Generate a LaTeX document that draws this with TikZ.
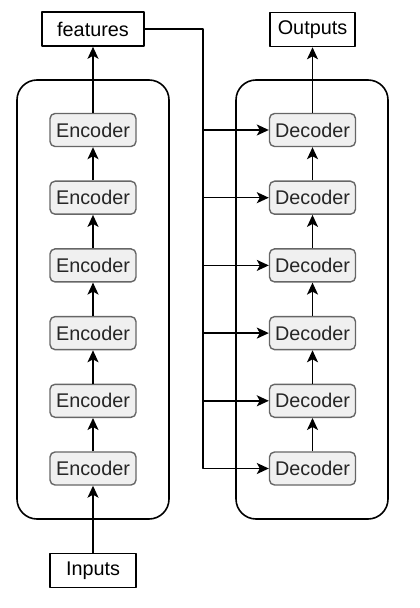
\documentclass[tikz,border=0pt]{standalone}
\usepackage{fontspec}
\setmainfont{Liberation Sans}
\usetikzlibrary{arrows.meta}

\tikzset{
  stack/.style={draw, line width=0.8pt, rounded corners=10pt, minimum width=76pt, minimum height=219.5pt},
  block/.style={draw=black!60, fill=black!6, line width=0.7pt, rounded corners=2.5pt, minimum width=43pt, minimum height=16.5pt, inner sep=0pt, text=black!85},
  io/.style={draw, line width=0.8pt, minimum height=17pt, inner sep=0pt},
  link/.style={line width=0.8pt, -{Stealth[length=6pt,width=5.5pt,inset=1.5pt]}}
}

\begin{document}
\begin{tikzpicture}[line join=round,x=0.5pt,y=-0.5pt,font=\fontsize{9.9pt}{11pt}\selectfont]
\useasboundingbox (0,0) rectangle (419,608);

\node[stack] (encstack) at (93,299.5) {};
\node[stack] (decstack) at (312,299.5) {};

\node[io, minimum width=51pt] (feat) at (93,29) {features};
\node[io, minimum width=42.5pt] (out) at (312.5,29.5) {Outputs};
\node[io, minimum width=43pt] (inp) at (93,570.5) {Inputs};

\foreach \i in {1,...,6} {
  \node[block] (enc\i) at (93,{468.5-67.7*(\i-1)}) {Encoder};
  \node[block] (dec\i) at (312.5,{468.5-67.7*(\i-1)}) {Decoder};
}

\draw[link] (inp) -- (enc1);
\draw[link] (enc6) -- (feat);
\draw[link] (dec6) -- (out);
\foreach \i [count=\j from 2] in {1,...,5} {
  \draw[link] (enc\i) -- (enc\j);
  \draw[link] (dec\i) -- (dec\j);
}

\coordinate (bus) at (203,29);
\draw[link] (feat.east) -- (bus) -- (bus |- dec1.west) -- (dec1.west);
\foreach \i in {2,...,6}
  \draw[link] (bus |- dec\i.west) -- (dec\i.west);
\end{tikzpicture}
\end{document}
